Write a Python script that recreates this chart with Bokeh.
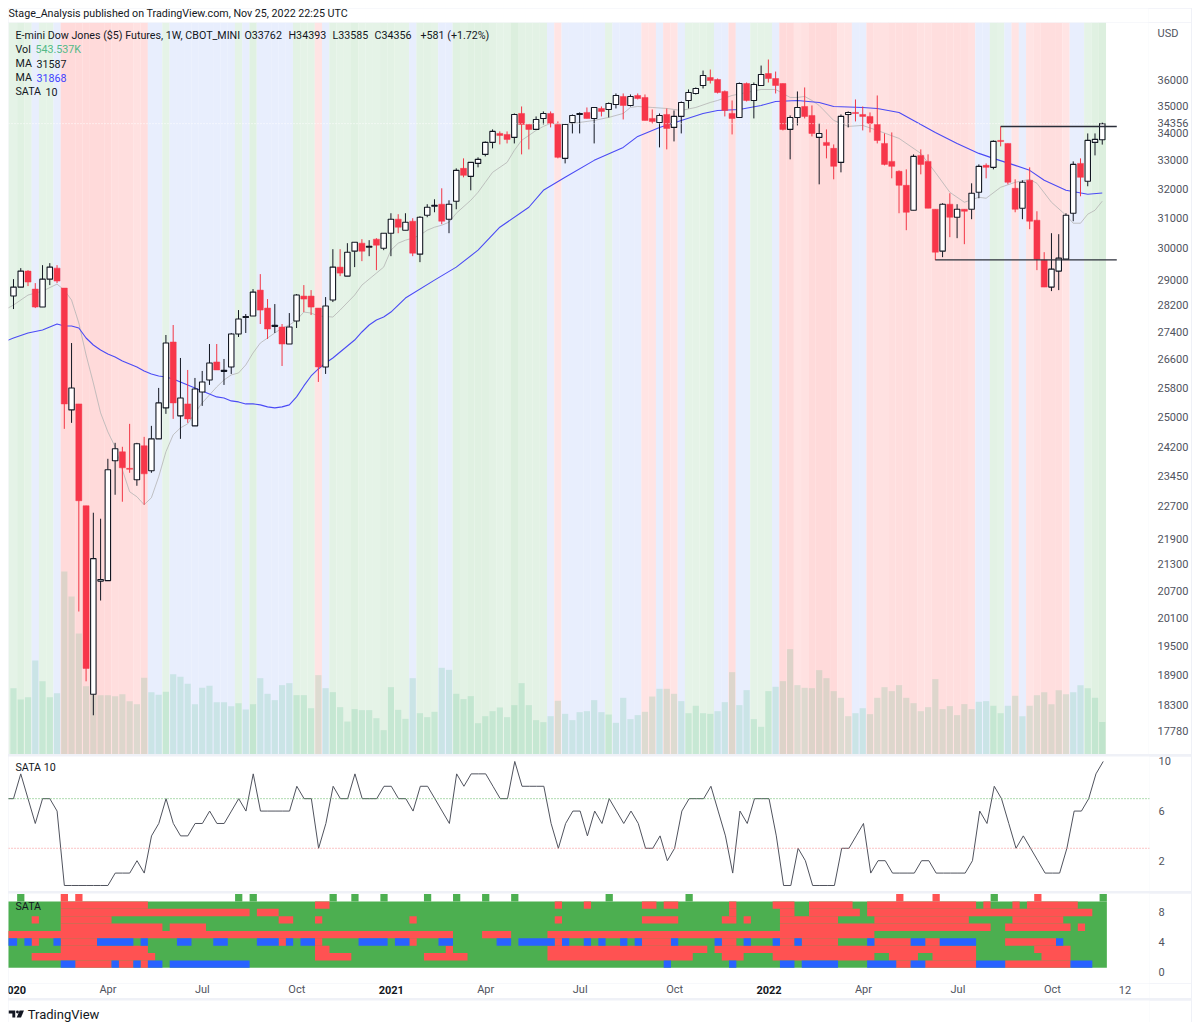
from bokeh.plotting import figure
from bokeh.layouts import column
from bokeh.embed import file_html
from bokeh.resources import INLINE
from bokeh.core.properties import value
from bokeh.models import Range1d, LinearScale, FixedTicker, NumeralTickFormatter, Label, Span

FONT = "Roboto"
TEXT = "#131722"
AXIS = "#50535E"

open_ = [28502,28780,29283,28718,28165,29030,29378,28749,25195,25359,22710,18514,20930,20941,23843,24077,23650,23358,24234,23586,
24417,25250,27118,25033,25359,24763,25690,26026,26538,26270,26395,27355,27850,27892,28687,28134,27580,27562,27059,27741,
28502,28502,28134,26395,28379,29410,29125,29923,30183,30053,30314,30020,30511,30977,30610,30910,29826,31111,31418,31484,
30977,31585,32732,32450,32908,33231,33665,33994,33957,33848,34738,34327,34142,34550,34738,34327,33088,34401,34700,34776,
34551,34926,34888,35078,35383,35040,35421,35345,34551,34401,34700,34216,34626,35230,35498,35806,36117,36039,35575,34738,
34588,35884,35230,35806,36273,36078,35884,34142,34588,35002,34663,33848,33665,33448,32944,34700,34776,34700,34626,34327,
33628,32980,32626,32135,31279,33195,32980,31313,29923,31484,31043,31313,31313,31894,32838,32767,33738,33628,32032,31347,
32310,30943,29633,28780,29283,29665,31178,32908,32275,33665,33762]
high = [29030,29378,29314,28905,29473,29537,29473,28749,27088,25359,22710,22539,22393,23895,24312,24208,24817,24312,24470,24763,
25802,27325,27622,26653,26309,26082,26281,27059,27059,26624,27385,28073,27952,28718,29188,28410,28256,27652,27982,28564,
28843,28687,28134,28471,29987,29987,30183,30215,30314,30281,30347,30511,31178,31145,31178,31010,31077,31484,31653,32032,
31619,32732,33088,32944,33124,33701,34142,34068,34068,34738,35002,34327,34626,34813,34813,34439,34327,34700,34776,34964,
34964,35002,35154,35498,35498,35460,35498,35460,34888,34738,34926,34851,35192,35652,35730,36391,36430,36078,35613,35230,
35922,35922,35922,36588,36828,36351,35884,34663,35575,35730,35040,34364,34142,33592,34700,34813,35268,35002,34776,35421,
33994,34031,32661,32696,33231,33411,33231,31313,31518,31860,31484,31313,32206,32873,32908,33738,34253,33628,32345,32310,
32767,31245,29890,30511,30478,31178,32980,33088,33994,33994,34393]
low = [28104,28780,28812,28134,28165,28843,28905,24683,24844,20251,18776,18098,20494,20941,22982,22809,23535,23207,22735,23535,
24417,25087,24951,24417,24844,24763,25305,25886,26309,25886,26196,27266,27385,27892,27652,27207,27385,26423,27059,27532,
28012,27922,25970,26196,28318,29125,29125,29410,29601,29761,29314,29955,29761,30511,30610,29761,29569,31043,31211,30810,
30511,31313,32415,31963,32767,33159,33448,33592,33628,33628,33231,33411,34142,34327,34216,33088,32908,33994,33994,34551,
33628,34626,34588,34926,34513,35002,35268,34476,34364,33484,33411,33701,33994,34926,35460,35691,35884,35498,34626,33957,
34588,35192,34551,35806,35922,35498,34105,33052,34290,34551,33884,32170,33088,32345,32590,34216,34439,34105,34031,33628,
32838,32380,31178,30610,31279,32520,31347,29633,29729,30380,30347,30150,30977,31688,32380,32696,33520,32170,31211,30977,
30643,29314,28780,28656,28687,29665,30910,31756,32103,33195,33585]
close = [28780,29283,28937,28165,29030,29410,28968,25359,25802,22834,19040,21445,20965,23612,24155,23663,23625,24286,23510,24417,
25387,27088,25387,25524,24951,25774,25970,26509,26309,26300,27355,27801,27880,28625,28073,27503,27610,27059,27562,28533,
28410,28165,26395,28195,29410,29220,29890,30215,29923,30085,30118,30511,30977,30709,30876,29858,31043,31381,31450,30910,
31484,32661,32485,32944,33052,33665,34068,33920,33775,34700,34327,34142,34513,34738,34364,33124,34327,34663,34738,34551,
34964,34813,35116,35421,35040,35383,35306,34476,34439,34663,34179,34626,35154,35536,35691,36195,36000,35536,34851,34551,
35884,35230,35845,36234,36078,35806,34142,34588,34964,34626,33994,33994,33556,32803,34626,34776,34738,34626,34364,33738,
32873,32803,32135,31211,33159,32873,31347,29890,31484,31043,31313,31245,31860,32803,32767,33701,33701,32240,31313,32240,
30910,29665,28780,29345,29697,31111,32873,32415,33738,33775,34356]

volume_k = [1114,924,963,1579,1232,963,1030,3074,2654,2033,1148,1008,997,997,980,1014,896,846,1288,1047,
1002,1053,1350,1305,1187,846,1120,1154,879,879,812,862,756,846,1282,1019,913,1165,1198,997,
997,778,1333,1114,1047,795,554,762,745,745,610,409,1131,750,599,1282,694,627,717,1456,
1422,1019,930,980,526,644,728,790,627,829,1198,829,577,543,644,902,683,577,711,728,
913,711,672,532,952,594,661,717,974,1103,1103,1019,896,694,818,694,683,728,879,1383,
829,1081,594,465,1064,1137,1232,1770,1165,1120,1114,1417,1282,1064,952,644,694,778,678,952,
1131,1064,1165,952,862,728,795,1266,762,812,661,846,762,885,896,818,694,818,986,644,
818,997,1047,846,1081,1014,1047,1165,1114,952,544]

ma_fast_idx = [-1,0,2,4,6,7,8,9,10,11,12,13,14,15,16,17,18,19,20,21,22,23,24,25,26,27,28,29,30,31,32,33,34,35,36,37,38,39,40,41,42,44,45,47,48,50,51,52,53,54,55,56,57,58,59,60,61,63,64,65,66,68,69,70,71,72,73,74,76,78,80,82,84,85,86,88,90,92,94,96,97,99,101,103,105,106,107,108,109,110,111,113,115,117,119,122,125,127,129,131,133,134,136,138,140,141,143,145,146,147,148,149,150]
ma_fast = [28104,28226,28533,28656,28874,28687,28379,27682,26740,25942,25114,24603,24208,23612,23057,22933,22735,22908,23433,24077,24524,24710,24817,25114,25387,25607,25830,26026,26167,26224,26452,26798,27088,27236,27385,27532,27622,27771,28012,27982,27892,27862,28073,28533,28843,29220,29410,29955,30183,30281,30347,30445,30610,30709,30776,30876,31178,31619,31894,32240,32590,32944,33375,33738,33920,34105,34253,34364,34327,34401,34476,34588,34738,34964,35002,34964,34926,34851,34964,35154,35230,35421,35536,35652,35652,35498,35345,35345,35383,35230,35040,34476,34253,34290,34105,33812,33267,32590,31894,31551,31722,31688,32067,32240,32345,32206,31551,31111,30843,30843,31145,31279,31587]

ma_slow_idx = [-1,0,2,4,6,7,8,9,10,11,12,13,14,15,16,17,18,19,20,21,22,23,24,25,26,27,28,29,30,31,32,33,34,35,36,37,38,39,40,41,42,43,44,45,46,47,48,49,50,51,52,54,58,61,64,67,71,73,76,80,84,86,89,92,95,97,100,103,105,108,111,113,117,119,122,124,127,130,133,135,138,140,142,145,148,150]
ma_slow = [27148,27236,27385,27473,27652,27592,27592,27532,27236,27031,26885,26769,26682,26566,26481,26395,26281,26196,26139,26111,26054,25970,25886,25802,25718,25635,25552,25524,25442,25414,25359,25359,25332,25277,25250,25277,25332,25552,25858,26139,26338,26509,26653,26827,27002,27177,27414,27622,27771,27862,28012,28441,28999,29410,29955,30709,31381,31963,32415,33016,33484,33884,34216,34476,34738,34851,34888,35040,35192,35230,35154,35002,34964,34926,34776,34476,34031,33628,33267,33088,32838,32661,32310,31963,31825,31868]

sata = [7,9,7,5,7,7,6,0,0,0,0,0,0,0,1,1,1,2,1,4,5,7,5,4,4,5,5,6,5,5,6,7,6,9,6,6,6,6,6,8,7,7,3,5,8,7,7,9,7,7,7,8,8,7,7,6,8,8,7,6,5,
9,8,9,9,9,8,7,7,10,8,8,8,8,5,3,5,6,6,4,6,5,7,6,5,6,5,3,3,4,2,3,6,7,7,7,8,6,4,1,6,5,7,7,7,4,0,0,3,2,0,0,0,0,3,3,4,5,1,2,2,1,1,1,1,2,2,1,1,1,1,1,2,
6,5,8,7,5,3,4,3,2,1,1,1,3,6,6,7,9,10]
sata_first = 7

row10_green = [1,31,33,44,47,51,57,61,65,69,82,93,135,150]
row10_red = [7,9,122,127,141]
row9_red = [(7,18),(42,43),(75,75),(79,79),(87,88),(90,91),(99,99),(105,107),(110,115),(118,132),(134,134),(138,138),(140,146)]
row8_red = [(7,32),(34,36),(99,99),(106,107),(110,116),(118,148)]
row7_red = [(3,3),(7,13),(37,38),(42,42),(55,55),(75,75),(87,91),(98,99),(101,101),(106,113),(119,131),(138,144)]
row6_red = [(7,20),(22,26),(106,134),(137,145),(147,147)]
row5_red = [(-1,60),(65,68),(74,118)]
row4_red = [(3,3),(7,11),(37,37),(42,42),(55,55),(75,75),(87,90),(98,99),(106,107),(109,113),(119,123),(126,127),(137,143)]
row4_blue = [(-1,0),(2,2),(6,6),(12,16),(18,18),(23,24),(28,29),(34,36),(38,38),(40,41),(48,51),(53,54),(59,60),(67,68),(70,74),(76,76),(79,79),(81,81),(84,84),(86,86),(91,91),(97,97),(101,101),(105,105),(108,108),(118,118),(124,125),(128,132),(144,144)]
row3_red = [(7,18),(42,43),(60,60),(74,95),(97,132),(141,145)]
row2_red = [(3,19),(42,46),(57,62),(74,93),(98,100),(105,118),(121,124),(127,132),(142,145)]
row1_red = [(9,13),(15,16),(18,18),(122,123),(126,132),(137,145)]
row1_blue = [(7,8),(14,14),(17,17),(19,20),(22,32),(90,90),(99,99),(106,107),(109,113),(118,121),(124,125),(133,136),(146,148)]

price_ticks = [36000,35000,34000,33000,32000,31000,30000,29000,28200,27400,26600,25800,25000,24200,23450,22700,21900,21300,20700,20100,19500,18900,18300,17780]
currency_label_price = 37881
last_price = 34356
level_high = 34250
level_high_start = 136
level_low = 29640
level_low_start = 127
level_end = 152
month_ticks = [13,26,39,65,78,91,117,130,143,153]
month_labels = ["Apr","Jul","Oct","Apr","Jul","Oct","Apr","Jul","Oct","12"]
year_ticks = [0,52,104]
year_labels = ["2020","2021","2022"]

STRIPE = {0:"#FFDADA",1:"#FFDEDE",2:"#FFE1E1",3:"#FFE4E4",4:"#E8EEFD",5:"#E8EEFD",6:"#E8EEFD",
          7:"#E5F3E7",8:"#E3F2E5",9:"#E0F1E2",10:"#DCEFDE"}
X0, X1 = -0.688, 156.37
idx = list(range(len(close)))
LEGEND_SIZE = "10.7px"

def style_axis(ax, standoff, color=AXIS):
    ax.axis_line_color = None
    ax.major_tick_line_color = None
    ax.minor_tick_line_color = None
    ax.major_label_standoff = standoff
    ax.major_label_text_color = color
    ax.major_label_text_font = FONT
    ax.major_label_text_font_size = "11px"

def base_fig(height, y_range, **kw):
    p = figure(width=1183, height=height, output_backend="svg", toolbar_location=None,
               x_range=Range1d(X0, X1), y_range=y_range, y_axis_location="right", x_axis_location=None, **kw)
    p.min_border_left = 0
    p.min_border_right = 42
    p.min_border_top = 0
    p.min_border_bottom = 0
    p.outline_line_color = None
    p.grid.visible = False
    p.background_fill_color = "white"
    p.border_fill_color = "white"
    style_axis(p.yaxis[0], 3)
    return p

def lbl(p, px, py, text, frame_bottom, color=TEXT, size=LEGEND_SIZE):
    p.add_layout(Label(x=px - 8, y=frame_bottom - py, x_units="screen", y_units="screen", text=text,
                       text_color=color, text_font=FONT, text_font_size=size,
                       text_baseline="middle", text_align="left"))

def text_strip(height, y0):
    p = figure(width=1183, height=height, output_backend="svg", toolbar_location=None,
               x_range=Range1d(8, 1191), y_range=Range1d(y0 + height, y0),
               x_axis_location=None, y_axis_location=None)
    p.min_border_left = p.min_border_right = p.min_border_top = p.min_border_bottom = 0
    p.outline_line_color = None
    p.grid.visible = False
    return p

# ---------- header ----------
p0 = text_strip(14, 8)
p0.add_layout(Label(x=8, y=13, text="Stage_Analysis published on TradingView.com, Nov 25, 2022 22:25 UTC",
                    text_color=TEXT, text_font=FONT, text_font_size=LEGEND_SIZE, text_baseline="middle"))
p0.scatter([9], [9], size=0.1, line_color=None, fill_color="white")

# ---------- price pane ----------
p1 = base_fig(732, Range1d(17345, 38335), y_axis_type="log")
p1.extra_y_ranges = {"vol": Range1d(0, 12296)}
p1.extra_y_scales = {"vol": LinearScale()}
p1.yaxis[0].ticker = FixedTicker(ticks=price_ticks + [last_price, currency_label_price])
p1.yaxis[0].formatter = NumeralTickFormatter(format="0")
p1.yaxis[0].major_label_overrides = {currency_label_price: "USD"}

p1.quad(left=[i - 0.5 if i else X0 for i in idx], right=[i + 0.52 for i in idx], bottom=17345, top=38335,
        fill_color=[STRIPE[s] for s in sata], line_color=None)
p1.vbar(x=idx, width=0.85, top=volume_k, bottom=0, y_range_name="vol", fill_color="#37B078", fill_alpha=0.17, line_color=None)
p1.add_layout(Span(location=last_price, dimension="width", line_color="white", line_dash="1 2", line_width=1))
p1.line(ma_fast_idx, ma_fast, line_color="#B4B4B4", line_width=1, line_alpha=0.8)
p1.line(ma_slow_idx, ma_slow, line_color="#4A4AF5", line_width=1.1)

up = [i for i in idx if close[i] >= open_[i]]
dn = [i for i in idx if close[i] < open_[i]]
p1.segment([i for i in dn], [high[i] for i in dn], [i for i in dn], [low[i] for i in dn], line_color="#F23645", line_width=1)
p1.segment([i for i in up], [high[i] for i in up], [i for i in up], [low[i] for i in up], line_color="#131722", line_width=1)
p1.vbar(x=dn, width=0.83, top=[open_[i] for i in dn], bottom=[close[i] for i in dn], fill_color="#F7364A", line_color="#F7364A", line_width=0.5)
p1.vbar(x=up, width=0.75, top=[close[i] for i in up], bottom=[open_[i] for i in up], fill_color="white", line_color="#131722", line_width=1.1)

p1.segment([level_high_start, level_low_start], [level_high, level_low], [level_end, level_end], [level_high, level_low],
           line_color="#2A2E39", line_width=1.3)

FB1 = 754
lbl(p1, 15, 35, "E-mini Dow Jones ($5) Futures, 1W, CBOT_MINI", FB1)
for px, t in [(244, "O33762"), (288, "H34393"), (332, "L33585"), (374, "C34356"), (420, "+581 (+1.72%)")]:
    lbl(p1, px, 35, t, FB1)
lbl(p1, 15, 49, "Vol", FB1)
lbl(p1, 35, 49, "543.537K", FB1, color="#53B987")
lbl(p1, 15, 63, "MA", FB1)
lbl(p1, 36, 63, "31587", FB1)
lbl(p1, 15, 77, "MA", FB1)
lbl(p1, 36, 77, "31868", FB1, color="#3F3FFF")
lbl(p1, 15, 91, "SATA", FB1)
lbl(p1, 45, 91, "10", FB1)

# ---------- SATA line pane ----------
p2 = base_fig(135, Range1d(-0.484, 10.4))
p2.yaxis[0].ticker = FixedTicker(ticks=[2, 6, 10])
p2.add_layout(Span(location=7, dimension="width", line_color="#4CAF50", line_dash="1 2", line_width=1, line_alpha=0.9))
p2.add_layout(Span(location=3, dimension="width", line_color="#F77C80", line_dash="1 2", line_width=1, line_alpha=0.9))
p2.line([-1] + idx, [sata_first] + sata, line_color="#50535E", line_width=1)
lbl(p2, 15, 767, "SATA  10", 891)

# ---------- SATA state pane ----------
GREEN, RED, BLUE = "#4CAF50", "#FF5252", "#2962FF"
p3 = base_fig(90, Range1d(-1.626, 10.57))
p3.yaxis[0].ticker = FixedTicker(ticks=[0, 4, 8])

def row(p, v, spans, color):
    p.quad(left=[a - 0.5 for a, b in spans], right=[b + 0.5 for a, b in spans],
           bottom=v - 0.5, top=v + 0.5, fill_color=color, line_color=None)

p3.quad(left=-1, right=150.5, bottom=0.5, top=9.5, fill_color=GREEN, line_color=None)
row(p3, 10, [(i, i) for i in row10_green], GREEN)
row(p3, 10, [(i, i) for i in row10_red], RED)
for v, spans in [(9, row9_red), (8, row8_red), (7, row7_red), (6, row6_red), (5, row5_red),
                 (4, row4_red), (3, row3_red), (2, row2_red), (1, row1_red)]:
    row(p3, v, spans, RED)
row(p3, 4, row4_blue, BLUE)
row(p3, 1, row1_blue, BLUE)
lbl(p3, 15, 906, "SATA", 983)

# ---------- time labels ----------
pt = figure(width=1183, height=15, output_backend="svg", toolbar_location=None,
            x_range=p3.x_range, y_range=Range1d(0, 15), x_axis_location=None, y_axis_location=None)
pt.min_border_left = 0
pt.min_border_right = 42
pt.min_border_top = pt.min_border_bottom = 0
pt.outline_line_color = None
pt.grid.visible = False
pt.text(x=month_ticks, y=[9] * len(month_ticks), text=month_labels, text_color=AXIS, text_font=value(FONT),
        text_font_size="11px", text_align="center", text_baseline="middle")
pt.text(x=year_ticks, y=[9] * len(year_ticks), text=year_labels, text_color=TEXT, text_font=value(FONT),
        text_font_size="11px", text_font_style="bold", text_align="center", text_baseline="middle")

# ---------- footer ----------
p4 = text_strip(22, 1000)
p4.patches([[8, 15, 15, 12, 12, 8], [19.5, 24, 21, 16.5]],
           [[1010, 1010, 1017, 1017, 1013, 1013], [1010, 1010, 1017, 1017]],
           fill_color=TEXT, line_color=None)
p4.circle(x=[17.3], y=[1011.5], radius=1.5, fill_color=TEXT, line_color=None)
p4.add_layout(Label(x=28, y=1013.5, text="TradingView", text_color=TEXT, text_font=FONT,
                    text_font_size="13px", text_baseline="middle"))

top_block = column(p0, p1, spacing=0)
state_block = column(p3, pt, spacing=0)
layout = column(top_block, p2, state_block, p4, spacing=2, width=1184, margin=(8, 0, 0, 8),
                styles={"background-color": "#EFF1F7"})
open("out.html", "w").write(file_html(layout, INLINE))
